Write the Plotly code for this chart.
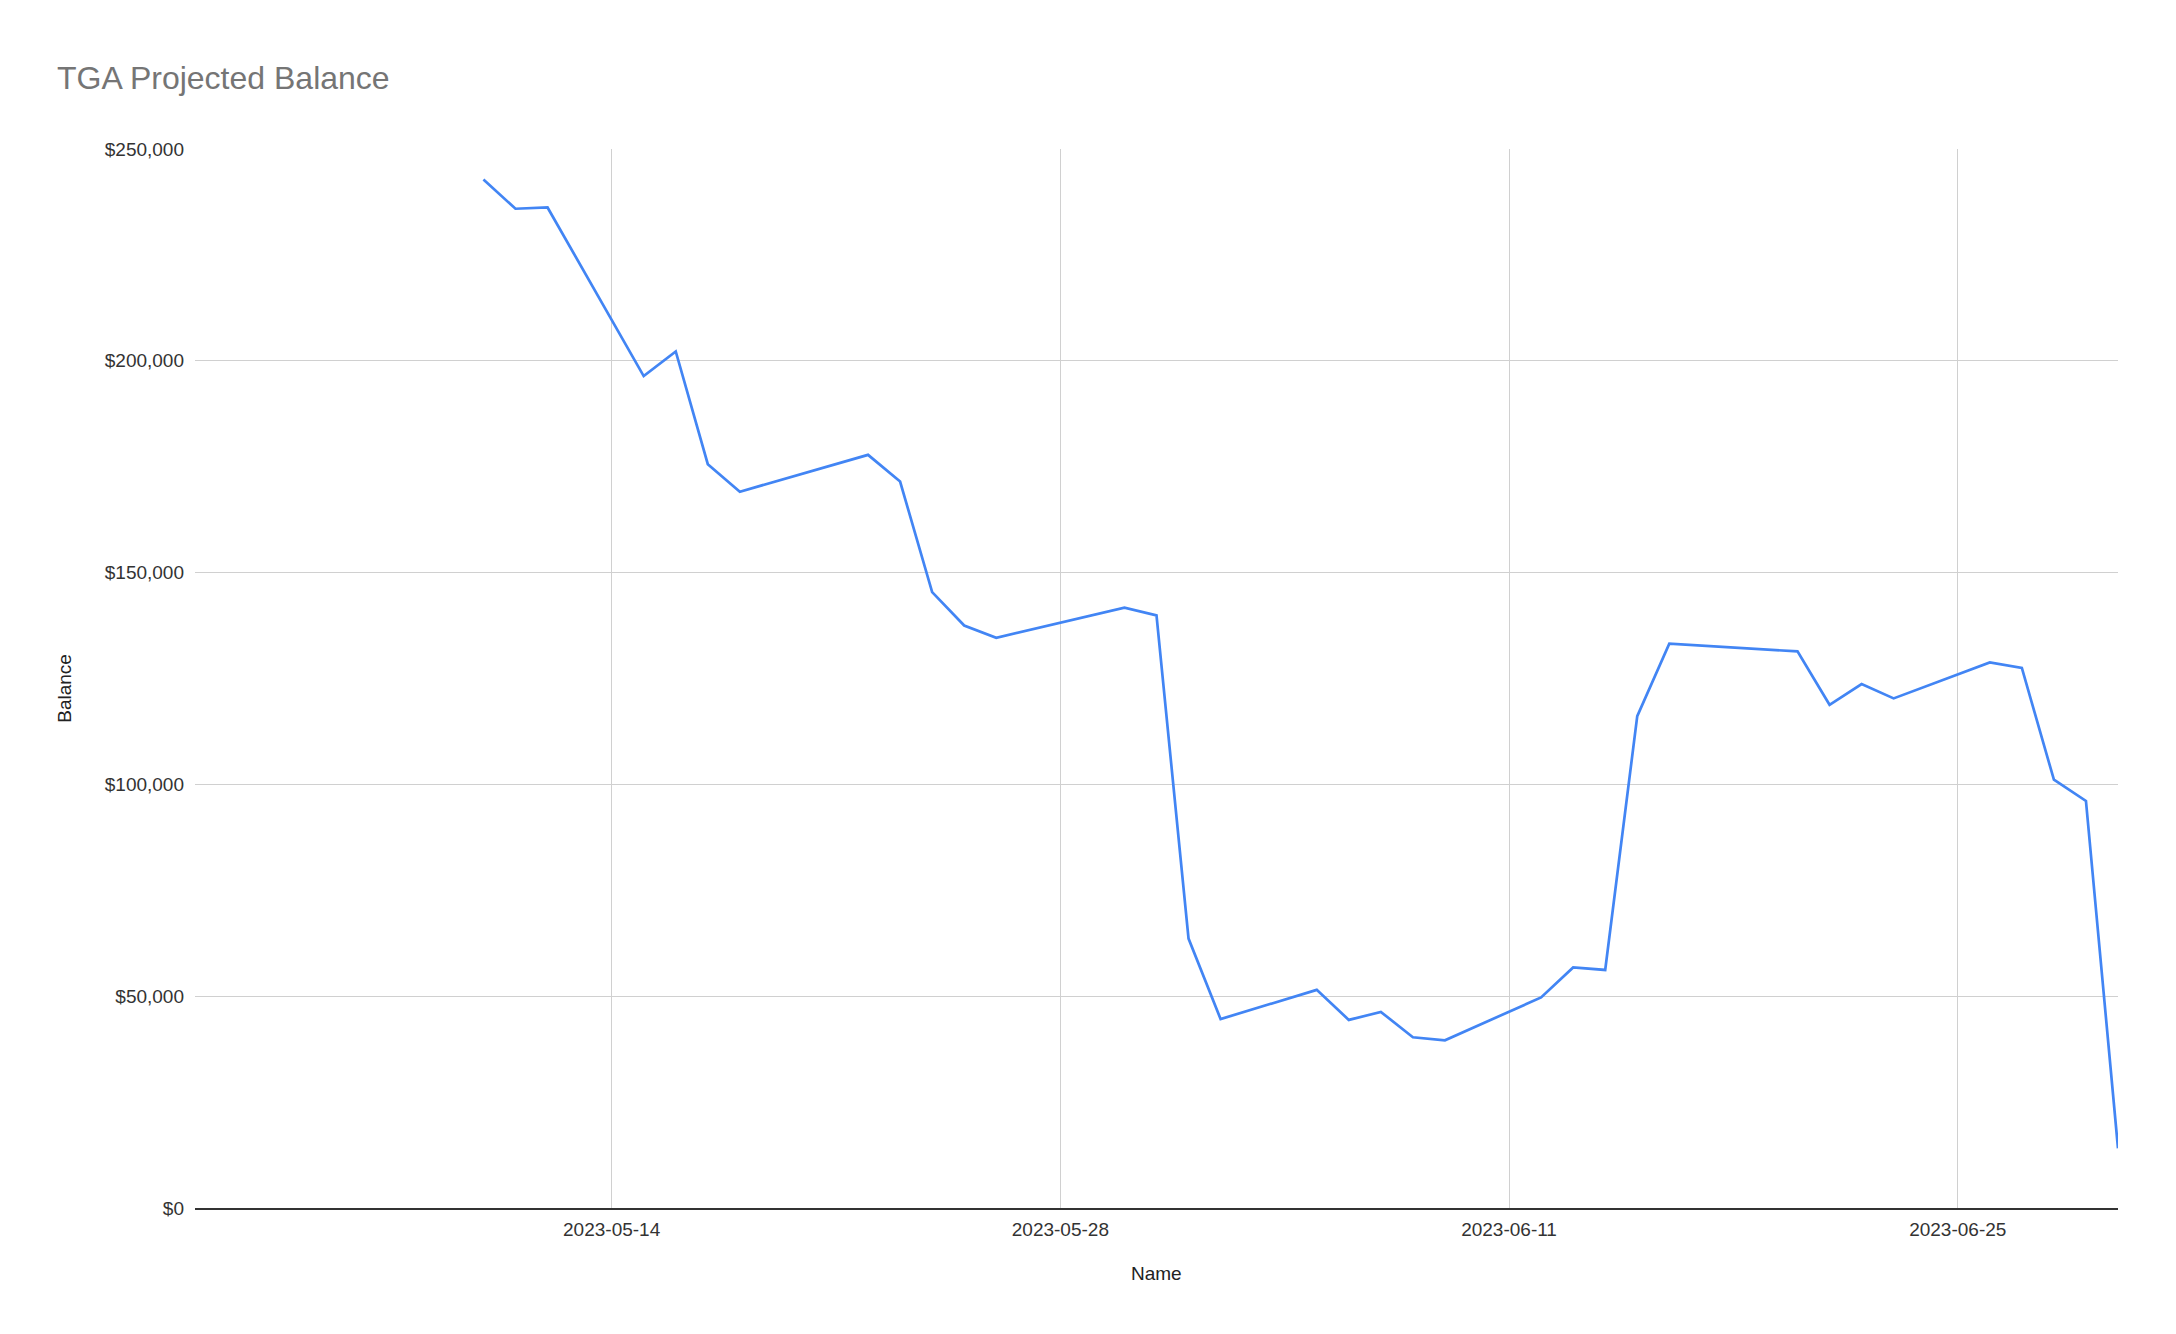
import plotly.graph_objects as go

# ---- data ----
dates = ["2023-05-10", "2023-05-11", "2023-05-12", "2023-05-15", "2023-05-16",
         "2023-05-17", "2023-05-18", "2023-05-22", "2023-05-23", "2023-05-24",
         "2023-05-25", "2023-05-26", "2023-05-30", "2023-05-31", "2023-06-01",
         "2023-06-02", "2023-06-05", "2023-06-06", "2023-06-07", "2023-06-08",
         "2023-06-09", "2023-06-12", "2023-06-13", "2023-06-14", "2023-06-15",
         "2023-06-16", "2023-06-20", "2023-06-21", "2023-06-22", "2023-06-23",
         "2023-06-26", "2023-06-27", "2023-06-28", "2023-06-29", "2023-06-30"]
balance = [242800, 235900, 236200, 196400, 202200,
           175600, 169100, 177800, 171500, 145400,
           137500, 134600, 141700, 139900, 63600,
           44600, 51500, 44400, 46300, 40300,
           39600, 49700, 56800, 56200, 116100,
           133200, 131400, 118800, 123700, 120300,
           128800, 127500, 101100, 96100, 14100]

x_ticks = ["2023-05-14", "2023-05-28", "2023-06-11", "2023-06-25"]
y_ticks = [0, 50000, 100000, 150000, 200000, 250000]
x_range = ["2023-05-01", "2023-06-30"]

title_text = "TGA Projected Balance"
x_title = "Name"
y_title = "Balance"

W, H = 2176, 1334
FONT = "Arial, Liberation Sans, sans-serif"

fig = go.Figure()
fig.add_trace(go.Scatter(
    x=dates, y=balance, mode="lines",
    line=dict(color="#4285F4", width=2.7),
    name=y_title, showlegend=False,
))

fig.update_layout(
    width=W, height=H,
    paper_bgcolor="white", plot_bgcolor="white",
    margin=dict(l=195, r=58, t=149, b=126, pad=0),
    font=dict(family=FONT, size=19, color="#333333"),
    title=dict(text=title_text, font=dict(family=FONT, size=32, color="#757575"),
               x=57 / W, xanchor="left", xref="container",
               y=1 - 78 / H, yanchor="middle", yref="container"),
    showlegend=False,
)

fig.update_xaxes(
    type="date", range=x_range,
    tickvals=x_ticks, ticktext=x_ticks,
    showgrid=True, gridcolor="#d0d0d0", gridwidth=1,
    showline=True, linecolor="#333333", linewidth=1.5,
    zeroline=False, ticks="", ticklabelstandoff=3,
    tickfont=dict(family=FONT, size=19, color="#333333"),
)
fig.update_yaxes(
    range=[0, 250000], tickvals=y_ticks, tickformat="$,.0f",
    showgrid=True, gridcolor="#d0d0d0", gridwidth=1,
    zeroline=False, showline=False, ticks="", ticklabelstandoff=10,
    tickfont=dict(family=FONT, size=19, color="#333333"),
)

fig.add_annotation(text=x_title, xref="paper", yref="paper",
                   x=0.5, y=-(1274 - 1208.5) / (1208.5 - 149), xanchor="center", yanchor="middle",
                   showarrow=False, font=dict(family=FONT, size=19, color="#222222"))
fig.add_annotation(text=y_title, xref="paper", yref="paper", textangle=-90,
                   x=-(195 - 65) / (2118 - 195), y=1 - (689 - 149) / (1208.5 - 149),
                   xanchor="center", yanchor="middle",
                   showarrow=False, font=dict(family=FONT, size=19, color="#222222"))

fig.write_html("out.html",
               config={"displayModeBar": False},
               post_script="document.body.style.margin='0';document.body.style.overflow='hidden';")
